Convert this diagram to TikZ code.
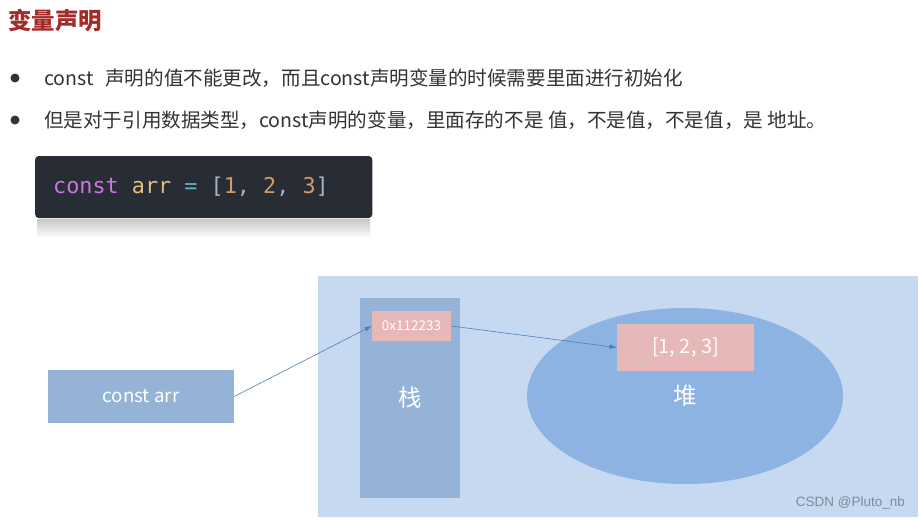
\documentclass[tikz,border=0pt]{standalone}
\usepackage{fontspec}
\setmainfont{Noto Sans CJK SC}
\newfontfamily\codefont{DejaVu Sans Mono}
\newfontfamily\markfont{Liberation Sans}
\usetikzlibrary{arrows.meta,shapes.geometric}
\definecolor{titlered}{HTML}{A52A2A}
\definecolor{bodygray}{HTML}{333333}
\definecolor{codebg}{HTML}{282C34}
\definecolor{kwpurple}{HTML}{C678DD}
\definecolor{varyellow}{HTML}{E5C07B}
\definecolor{opcyan}{HTML}{56B6C2}
\definecolor{brgray}{HTML}{ABB2BF}
\definecolor{numorange}{HTML}{D19A66}
\definecolor{memblue}{HTML}{C6D9F0}
\definecolor{stackblue}{HTML}{95B3D7}
\definecolor{heapblue}{HTML}{8DB3E2}
\definecolor{cellpink}{HTML}{E6B9B8}
\definecolor{linkblue}{HTML}{4A7EBB}
\definecolor{markgray}{HTML}{7F8A96}
\newcommand\codesp{\hspace{0.602em}}

\begin{document}
\begin{tikzpicture}[x=0.03cm,y=-0.03cm,
    every node/.style={inner sep=0pt},
    bullettext/.style={anchor=west,text=bodygray,font=\fontsize{16.7}{20}\selectfont},
    cell/.style={fill=cellpink,text=white},
    link/.style={draw=linkblue,line width=0.5pt,-{Latex[length=6pt,width=4pt]}}]
  \useasboundingbox (0,0) rectangle (920,519);
  \fill[white] (0,0) rectangle (920,519);
  % heading and the two remarks
  \node (heading) [anchor=west,text=titlered,font=\fontsize{20}{24}\selectfont\bfseries] at (8,21) {变量声明};
  \fill[bodygray] (15,78) circle [radius=4.5];
  \node (remark1) [bullettext] at (44,78) {const\hspace{0.6em}声明的值不能更改，而且const声明变量的时候需要里面进行初始化};
  \fill[bodygray] (15,120) circle [radius=4.5];
  \node (remark2) [bullettext] at (44,120) {但是对于引用数据类型，const声明的变量，里面存的不是 值，不是值，不是值，是 地址。};
  % code line
  \shade[top color=black!22,bottom color=white] (37,219) rectangle (370,238);
  \node (code) [anchor=west,fill=codebg,rounded corners=3pt,text width=9.03cm,inner xsep=0.54cm,
    minimum height=1.86cm,align=left,font=\codefont\fontsize{18.6}{22}\selectfont] at (35,187)
    {\textcolor{kwpurple}{const}\codesp\textcolor{varyellow}{arr}\codesp\textcolor{opcyan}{=}\codesp\textcolor{brgray}{[}\textcolor{numorange}{1}\textcolor{brgray}{,}\codesp\textcolor{numorange}{2}\textcolor{brgray}{,}\codesp\textcolor{numorange}{3}\textcolor{brgray}{]}};
  % memory
  \fill[memblue] (318,276) rectangle (918,517);
  \node (stack) [fill=stackblue,text=white,minimum width=3cm,minimum height=6cm,
    font=\fontsize{20}{24}\selectfont] at (410,398) {栈};
  \node (addr) [cell,minimum width=2.37cm,minimum height=0.9cm,font=\fontsize{11.5}{14}\selectfont] at (411.5,326) {0x112233};
  \node (heap) [ellipse,fill=heapblue,text=white,minimum width=9.48cm,minimum height=5.28cm,
    font=\fontsize{20}{24}\selectfont] at (685,396) {堆};
  \node (value) [cell,minimum width=4.11cm,minimum height=1.41cm,font=\fontsize{17}{20}\selectfont] at (685.5,347.5) {[1, 2, 3]};
  \node (arr) [fill=stackblue,text=white,minimum width=5.58cm,minimum height=1.59cm,
    font=\fontsize{16}{19}\selectfont] at (141,396.5) {const arr};
  \draw[link] (arr.east) -- (addr.west);
  \draw[link] (addr.east) -- (value.west);
  \node (mark) [anchor=east,text=markgray,font=\markfont\fontsize{11.5}{14}\selectfont] at (905,503) {CSDN @Pluto\_nb};
\end{tikzpicture}
\end{document}
